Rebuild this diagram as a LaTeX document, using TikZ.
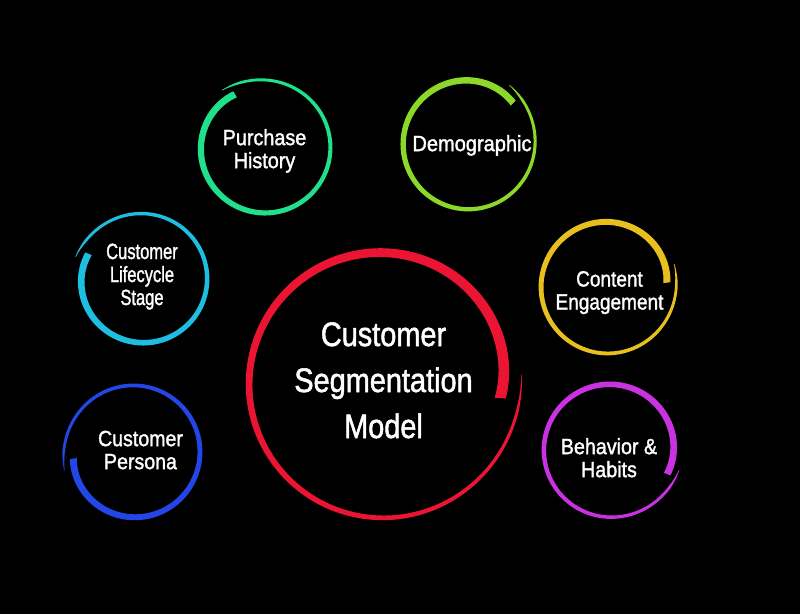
\documentclass[tikz,border=0pt]{standalone}
\usepackage{fontspec}
\setmainfont{Liberation Sans}[FakeBold=1.6]
\usepackage{graphicx}
\definecolor{cgreen}{RGB}{32,224,140}
\definecolor{clime}{RGB}{140,216,40}
\definecolor{ccyan}{RGB}{30,190,225}
\definecolor{cyellow}{RGB}{232,192,30}
\definecolor{cblue}{RGB}{35,70,230}
\definecolor{cmagenta}{RGB}{200,50,225}
\definecolor{cred}{RGB}{235,20,50}
% #1 centre, #2 colour, #3 radius, #4 outward start offset, #5 inward end offset,
% #6 start angle, #7 sweep, #8 start width, #9 end width
\newcommand{\brushring}[9]{%
  \fill[#2, shift={(#1)}]
    plot[variable=\myu, domain=0:1, samples=220]
      ({#6+#7*\myu}:{#3+#4*exp(-#7*\myu/45)-#5*exp(-#7*(1-\myu)/45)+0.5*(#8+(#9-#8)*\myu)*min(1,0.2+#7*\myu/20)})
    -- plot[variable=\myu, domain=1:0, samples=220]
      ({#6+#7*\myu}:{#3+#4*exp(-#7*\myu/45)-#5*exp(-#7*(1-\myu)/45)-0.5*(#8+(#9-#8)*\myu)*min(1,0.2+#7*\myu/20)})
    -- cycle;}
\newcommand{\lbl}[2]{\scalebox{#1}[1]{\begin{tabular}{@{}c@{}}#2\end{tabular}}}
\tikzset{
  small/.style={text=white, inner sep=0pt, font=\fontsize{22}{23}\selectfont},
  big/.style={text=white, inner sep=0pt, font=\fontsize{34}{46}\selectfont}
}
\begin{document}
\begin{tikzpicture}[x=1pt, y=-1pt]
\fill[black] (0,0) rectangle (800,614);
\useasboundingbox (0,0) rectangle (800,614);

\coordinate (cPur) at (265,148);
\coordinate (cDem) at (468,144);
\coordinate (cLif) at (143,279);
\coordinate (cCon) at (607,287);
\coordinate (cPer) at (134,452);
\coordinate (cBeh) at (610,450);
\coordinate (cMain) at (382,384);

\brushring{cPur}{cgreen}{65}{7}{3.5}{233}{368}{2.5}{7}
\brushring{cDem}{clime}{65}{7}{4}{305}{373}{2.5}{7}
\brushring{cLif}{ccyan}{64}{7}{4}{198}{367}{2.5}{7}
\brushring{cCon}{cyellow}{66}{5}{6}{341}{375}{2.5}{7}
\brushring{cBeh}{cmagenta}{66}{6}{4}{16}{367}{2.5}{7}
\brushring{cPer}{cblue}{66}{6}{5}{165}{369}{2.5}{7}
\brushring{cMain}{cred}{133}{7}{14}{356}{371}{2.5}{11}

\node[small] (pur) at (264.5,152) {\lbl{0.9}{Purchase\\History}};
\node[small] (dem) at (472,146.5) {\lbl{0.91}{Demographic}};
\node[small] (lif) at (142,277.4) {\lbl{0.75}{Customer\\Lifecycle\\Stage}};
\node[small] (con) at (609.5,293.4) {\lbl{0.865}{Content\\Engagement}};
\node[small] (per) at (140.5,453) {\lbl{0.89}{Customer\\Persona}};
\node[small] (beh) at (609,461) {\lbl{0.895}{Behavior \&\\Habits}};
\node[big] (main) at (383.5,382.8) {\lbl{0.85}{Customer\\Segmentation\\Model}};
\end{tikzpicture}
\end{document}
